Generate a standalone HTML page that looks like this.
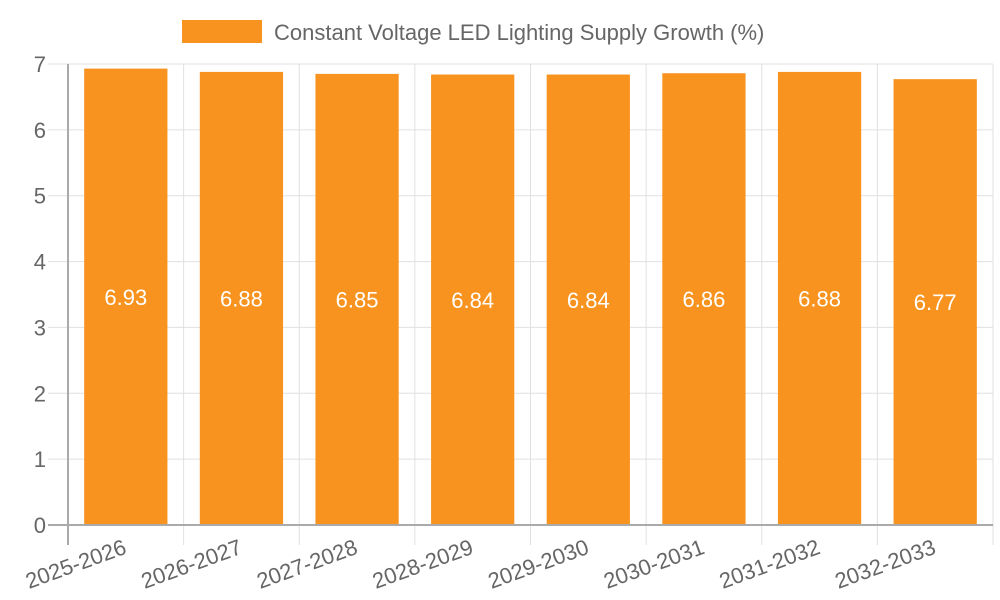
<!DOCTYPE html>
<html><head><meta charset="utf-8"><style>
html,body{margin:0;padding:0;background:#fff;}
svg{display:block;font-family:"Liberation Sans",sans-serif;}
</style></head><body>
<svg id="chart" width="1000" height="600">
<g>
<rect x="182" y="20" width="80" height="23" fill="#f7931e"></rect>
<text x="274" y="40" font-size="22" fill="#666">Constant Voltage LED Lighting Supply Growth (%)</text>
</g>
<g id="grid"></g>
<g id="bars"></g>
<g id="axes"></g>
</svg>
<script>
const categories=["2025-2026","2026-2027","2027-2028","2028-2029","2029-2030","2030-2031","2031-2032","2032-2033"];
const values=[6.93,6.88,6.85,6.84,6.84,6.86,6.88,6.77];
const yTicks=[0,1,2,3,4,5,6,7];
const NS="http://www.w3.org/2000/svg";
const L=68,R=993,T=64,B=525,yMax=7;
const y=v=>B-(v/yMax)*(B-T);
const bw=(R-L)/categories.length;
const xc=i=>L+bw*(i+0.5);
function mk(tag,attrs,parent,text){const e=document.createElementNS(NS,tag);for(const k in attrs)e.setAttribute(k,attrs[k]);if(text!==undefined)e.textContent=text;parent.appendChild(e);return e;}
const grid=document.getElementById('grid'),bars=document.getElementById('bars'),axes=document.getElementById('axes');
yTicks.forEach(t=>{
  const l=mk('line',{x1:48,x2:R,y1:y(t),y2:y(t),stroke:'#e0e0e0','stroke-width':1},grid);
  
  
  const tx=mk('text',{x:46,y:y(t)+8,'text-anchor':'end','font-size':22,fill:'#666'},axes,String(t));
  
  
});
for(let i=0;i<=categories.length;i++){
  const x=L+bw*i;
  const l=mk('line',{x1:x,x2:x,y1:T,y2:545,stroke:'#e0e0e0','stroke-width':1},grid);
  
  
}
categories.forEach((c,i)=>{
  const w=bw*0.72;
  const r=mk('rect',{x:xc(i)-w/2,y:y(values[i]),width:w,height:B-y(values[i]),fill:'#f7931e'},bars);
  
  
  const vl=mk('text',{x:xc(i),y:(y(values[i])+B)/2+8,'text-anchor':'middle','font-size':22,fill:'#fff'},bars,values[i].toFixed(2));
  
  
  const xl=mk('text',{x:0,y:0,'text-anchor':'end','font-size':22,fill:'#666',transform:`translate(${xc(i)+2},${553}) rotate(-20)`},axes,c);
  
  
});
const ya=mk('line',{x1:L,x2:L,y1:T,y2:545,stroke:'#aaa','stroke-width':2},axes);


const xa=mk('line',{x1:48,x2:R,y1:B,y2:B,stroke:'#aaa','stroke-width':2},axes);


</script>
</body></html>
